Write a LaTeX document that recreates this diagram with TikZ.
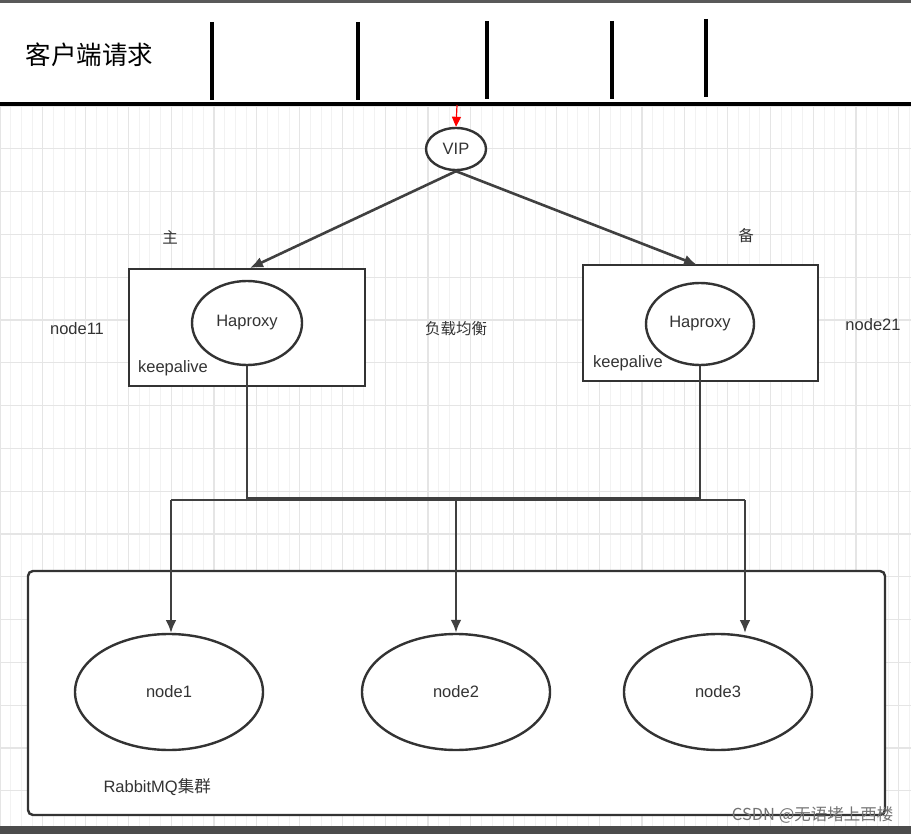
\documentclass[tikz,border=0pt]{standalone}
\usepackage{fontspec}
\setmainfont{Liberation Sans}
\newfontfamily\cjk{Noto Sans CJK SC}
\usetikzlibrary{arrows.meta,shapes.geometric}
\begin{document}
\begin{tikzpicture}[x=1pt,y=-1pt,
  lab/.style={font=\fontsize{16.5}{18}\selectfont, text=black!80},
  clab/.style={font=\cjk\fontsize{15.5}{18}\selectfont, text=black!80},
  shp/.style={draw=black!80, line width=2.4pt},
  con/.style={draw=black!75, line width=2.6pt},
  arr/.style={con,-{Latex[length=13pt,width=11pt]}},
  vl/.style={line width=3.4pt}]
\useasboundingbox (0,0) rectangle (911,834);
\fill[white] (0,0) rectangle (911,834);
% grid
\clip (0,0) rectangle (911,834);
\draw[black!5, line width=0.8pt] (0,106) grid[step=10.7] (911,826);
\foreach \x in {0,42.8,...,911} \draw[black!10, line width=1.2pt] (\x,106) -- (\x,826);
\foreach \y in {106,148.8,...,826} \draw[black!10, line width=1.2pt] (0,\y) -- (911,\y);
% top band
\fill[white] (0,3) rectangle (911,103);
\fill[black!65] (0,0) rectangle (911,3);
\fill[black!70] (0,826) rectangle (911,834);
\draw[line width=3.5pt] (0,104) -- (911,104);
\foreach \x/\a/\b in {212/22/100,358/22/100,487/21/99,612/21/99,706/19/97} \draw[vl] (\x,\a) -- (\x,\b);
\node[font=\cjk\fontsize{25.5}{30}\selectfont, anchor=west] (title) at (22,55) {客户端请求};
% VIP
\coordinate (top) at (457,105);
\node[shp, ellipse, minimum width=60, minimum height=42, inner sep=0, fill=white, lab] (vip) at (456,149) {VIP};
\draw[red, line width=1.2pt, -{Triangle[length=10pt,width=9pt]}] (top) -- (vip.north);
% boxes
\node[shp, draw=black!80, minimum width=236, minimum height=117, fill=white] (box1) at (247,327.5) {};
\node[shp, draw=black!80, minimum width=235, minimum height=116, fill=white] (box2) at (700.5,323) {};
\node[shp, ellipse, minimum width=110, minimum height=84, inner sep=0, lab] (h1) at (247,323) {Haproxy};
\node[shp, ellipse, minimum width=108, minimum height=82, inner sep=0, lab] (h2) at (700,324) {Haproxy};
\node[lab] (k1) at (173,368) {keepalive};
\node[lab] (k2) at (628,363) {keepalive};
\node[clab] (zhu) at (170,237) {主};
\node[clab] (bei) at (746,236) {备};
\node[lab] (n11) at (77,329) {node11};
\node[lab] (n21) at (873,325) {node21};
\node[clab] (lb) at (456,329) {负载均衡};
\draw[arr] (vip.south) -- (250,268);
\draw[arr] (vip.south) -- (697,265);
% cluster
\draw[shp, rounded corners=5pt, fill=white] (28,571) rectangle (885,815);
\node[shp, ellipse, minimum width=188, minimum height=116, inner sep=0, lab] (n1) at (169,692) {node1};
\node[shp, ellipse, minimum width=188, minimum height=116, inner sep=0, lab] (n2) at (456,692) {node2};
\node[shp, ellipse, minimum width=188, minimum height=116, inner sep=0, lab] (n3) at (718,692) {node3};
\node[lab, anchor=west] (rmq) at (100,787) {RabbitMQ{\cjk 集群}};
% connectors
\coordinate (j1) at (247,498);
\coordinate (j2) at (700,498);
\draw[con] (h1.south) -- (j1) -- (j2) -- (h2.south);
\draw[con] (171,500) -- (745,500);
\draw[arr] (171,500) -- (171,633);
\draw[arr] (456,500) -- (n2.north);
\draw[arr] (745,500) -- (745,633);
\node[font=\cjk\fontsize{16.5}{18}\selectfont, text=black!55, anchor=east] (wm) at (897,815) {CSDN @无语堵上西楼};
\end{tikzpicture}
\end{document}
